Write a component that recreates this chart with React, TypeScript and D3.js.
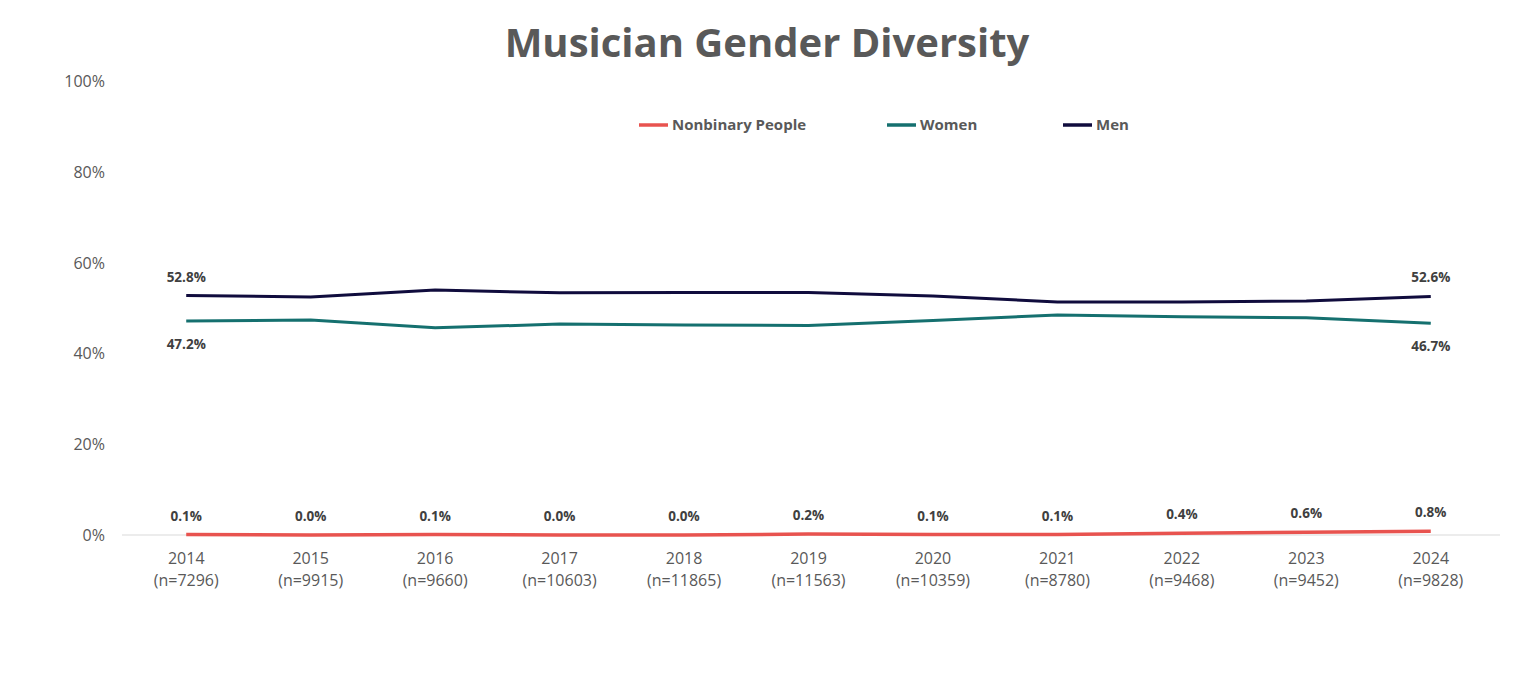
import React from "react";
import * as d3 from "d3";

const years = ["2014", "2015", "2016", "2017", "2018", "2019", "2020", "2021", "2022", "2023", "2024"];
const sampleSizes = [7296, 9915, 9660, 10603, 11865, 11563, 10359, 8780, 9468, 9452, 9828];
const nonbinary = [0.1, 0.0, 0.1, 0.0, 0.0, 0.2, 0.1, 0.1, 0.4, 0.6, 0.8];
const women = [47.2, 47.4, 45.7, 46.5, 46.3, 46.2, 47.3, 48.5, 48.1, 47.9, 46.7];
const men = [52.8, 52.5, 54.0, 53.4, 53.5, 53.5, 52.7, 51.4, 51.4, 51.6, 52.6];
const yTicks = [0, 20, 40, 60, 80, 100];

const W = 1536;
const H = 683;
const FONT = "'Open Sans', 'Noto Sans', sans-serif";
const TEXT = "#595959";

const series = [
  { name: "Nonbinary People", values: nonbinary, color: "#E8534F", width: 3.5 },
  { name: "Women", values: women, color: "#15706F", width: 3 },
  { name: "Men", values: men, color: "#100C3D", width: 3 },
];

export default function App() {
  const x = d3.scalePoint<string>().domain(years).range([124, 1493]).padding(0.5);
  const y = d3.scaleLinear().domain([0, 100]).range([535, 81.5]);
  const line = d3
    .line<number>()
    .x((_, i) => x(years[i]) as number)
    .y((v) => y(v));

  const legendItems = [
    { s: series[0], x0: 639 },
    { s: series[1], x0: 887 },
    { s: series[2], x0: 1063 },
  ];

  const last = years.length - 1;

  return (
    <svg
      width={W}
      height={H}
      style={{ position: "absolute", left: 0, top: 0, background: "#fff" }}
      fontFamily={FONT}
    >
      <rect width={W} height={H} fill="#fff" />
      <text x={767} y={57} textAnchor="middle" fontSize={40} fontWeight={700} fill={TEXT}>
        Musician Gender Diversity
      </text>

      {/* y axis tick labels */}
      {yTicks.map((t) => (
        <text key={t} x={105} y={y(t)} dy="0.35em" textAnchor="end" fontSize={16} fill={TEXT}>
          {t}%
        </text>
      ))}

      {/* baseline */}
      <line x1={122} x2={1500} y1={y(0)} y2={y(0)} stroke="#D9D9D9" strokeWidth={1} />

      {/* x axis labels */}
      {years.map((yr, i) => (
        <g key={yr} transform={`translate(${x(yr)},0)`}>
          <text y={564} textAnchor="middle" fontSize={16} fill={TEXT}>
            {yr}
          </text>
          <text y={586} textAnchor="middle" fontSize={16} fill={TEXT}>
            (n={sampleSizes[i]})
          </text>
        </g>
      ))}

      {/* series lines */}
      {series.map((s) => (
        <path
          key={s.name}
          d={line(s.values) || ""}
          fill="none"
          stroke={s.color}
          strokeWidth={s.width}
          strokeLinejoin="round"
        />
      ))}

      {/* data labels */}
      {nonbinary.map((v, i) => (
        <text
          key={"nb" + i}
          x={x(years[i])}
          y={y(v) - 14}
          textAnchor="middle"
          fontSize={13.5}
          fontWeight={700}
          fill="#404040"
        >
          {v.toFixed(1)}%
        </text>
      ))}
      {[0, last].map((i) => (
        <g key={"mw" + i}>
          <text
            x={x(years[i])}
            y={y(men[i]) - 14}
            textAnchor="middle"
            fontSize={13.5}
            fontWeight={700}
            fill="#404040"
          >
            {men[i].toFixed(1)}%
          </text>
          <text
            x={x(years[i])}
            y={y(women[i]) + 28}
            textAnchor="middle"
            fontSize={13.5}
            fontWeight={700}
            fill="#404040"
          >
            {women[i].toFixed(1)}%
          </text>
        </g>
      ))}

      {/* legend */}
      {legendItems.map(({ s, x0 }) => (
        <g key={s.name}>
          <line x1={x0} x2={x0 + 29} y1={125} y2={125} stroke={s.color} strokeWidth={3.5} />
          <text x={x0 + 33} y={125} dy="0.35em" fontSize={15} fontWeight={700} fill={TEXT}>
            {s.name}
          </text>
        </g>
      ))}
    </svg>
  );
}
